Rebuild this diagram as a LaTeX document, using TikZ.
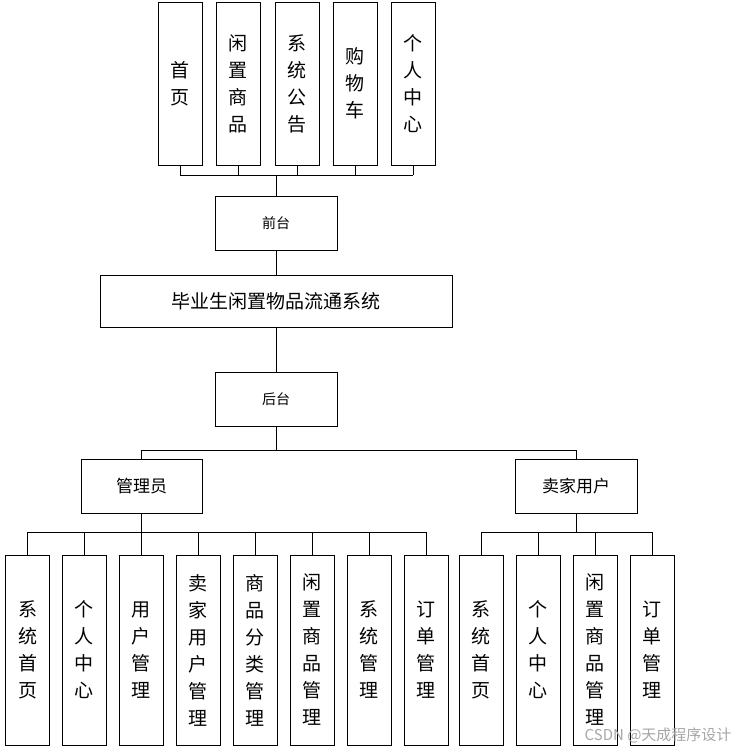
\documentclass[tikz,border=0pt]{standalone}
\usepackage{fontspec}
\setmainfont{Noto Sans CJK SC}
\begin{document}
\begin{tikzpicture}[x=1pt,y=-1pt,
 bx/.style={draw,line width=0.8pt,inner sep=0pt,align=center},
 vt/.style={bx,font=\fontsize{19}{27}\selectfont},
 ln/.style={line width=0.8pt}]
\useasboundingbox (0,0) rectangle (745,754);
% top
\foreach \n/\x/\t in {a/180/首\\页, b/238/闲\\置\\商\\品, c/297/系\\统\\公\\告, d/355/购\\物\\车, e/413/个\\人\\中\\心}
  \node[vt,minimum width=44pt,minimum height=163pt] (\n) at (\x,83.5) {\t};
\node[bx,minimum width=122pt,minimum height=54pt,font=\fontsize{14}{16}\selectfont] (qt) at (276,223) {前台};
\node[bx,minimum width=352pt,minimum height=52pt,font=\fontsize{19}{22}\selectfont] (sys) at (276,301) {毕业生闲置物品流通系统};
\node[bx,minimum width=122pt,minimum height=54pt,font=\fontsize{14}{16}\selectfont] (ht) at (276,399) {后台};
\node[bx,minimum width=121pt,minimum height=54pt,font=\fontsize{17}{20}\selectfont] (gly) at (141.5,486) {管理员};
\node[bx,minimum width=122pt,minimum height=54pt,font=\fontsize{17}{20}\selectfont] (mj) at (576,486) {卖家用户};
\coordinate (tb) at (276,175);
\foreach \n in {a,b,c,d,e} \draw[ln] (\n.south) -- (\n.south |- tb);
\draw[ln] (a.south |- tb) -- (e.south |- tb);
\draw[ln] (tb) -- (qt.north);
\draw[ln] (qt) -- (sys);
\draw[ln] (sys) -- (ht);
\coordinate (hb) at (276,450);
\draw[ln] (ht.south) -- (hb);
\draw[ln] (gly.north |- hb) -- (mj.north |- hb);
\draw[ln] (gly.north |- hb) -- (gly.north);
\draw[ln] (mj.north |- hb) -- (mj.north);
% admin children
\foreach \n/\x/\t in {g1/27.5/系\\统\\首\\页, g2/84/个\\人\\中\\心, g3/141/用\\户\\管\\理, g4/198/卖\\家\\用\\户\\管\\理, g5/255/商\\品\\分\\类\\管\\理, g6/312/闲\\置\\商\\品\\管\\理, g7/369/系\\统\\管\\理, g8/426/订\\单\\管\\理}
  \node[vt,minimum width=44pt,minimum height=190pt] (\n) at (\x,650) {\t};
\coordinate (gb) at (141.5,532);
\draw[ln] (gly.south) -- (gb);
\draw[ln] (g1.north |- gb) -- (g8.north |- gb);
\foreach \n in {g1,g2,g3,g4,g5,g6,g7,g8} \draw[ln] (\n.north |- gb) -- (\n.north);
\foreach \n/\x/\t in {m1/481/系\\统\\首\\页, m2/538/个\\人\\中\\心, m3/595/闲\\置\\商\\品\\管\\理, m4/652/订\\单\\管\\理}
  \node[vt,minimum width=44pt,minimum height=190pt] (\n) at (\x,650) {\t};
\coordinate (mb) at (576,532);
\draw[ln] (mj.south) -- (mb);
\draw[ln] (m1.north |- mb) -- (m4.north |- mb);
\foreach \n in {m1,m2,m3,m4} \draw[ln] (\n.north |- mb) -- (\n.north);
\node[text=gray!70,font=\fontsize{15}{17}\selectfont,anchor=east] (wm) at (735,735) {CSDN @天成程序设计};
\end{tikzpicture}
\end{document}
